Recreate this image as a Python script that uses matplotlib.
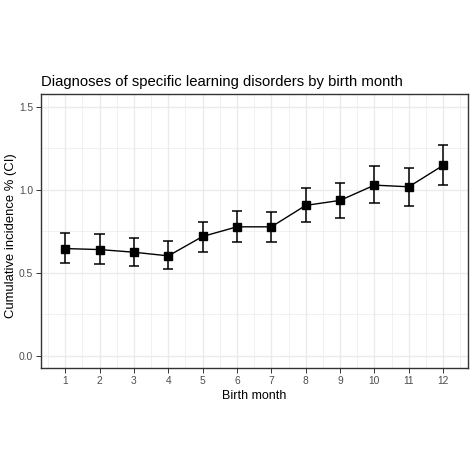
import matplotlib
matplotlib.use("Agg")
import matplotlib.pyplot as plt
import numpy as np

plt.rcParams["font.family"] = ["Liberation Sans", "DejaVu Sans"]

months = [1, 2, 3, 4, 5, 6, 7, 8, 9, 10, 11, 12]
incidence = [0.646, 0.640, 0.624, 0.602, 0.719, 0.777, 0.777, 0.906, 0.936, 1.028, 1.018, 1.147]
ci_lower = [0.560, 0.552, 0.542, 0.522, 0.628, 0.685, 0.685, 0.805, 0.833, 0.920, 0.904, 1.026]
ci_upper = [0.737, 0.733, 0.711, 0.689, 0.809, 0.873, 0.867, 1.008, 1.038, 1.141, 1.133, 1.267]
y_ticks = [0.0, 0.5, 1.0, 1.5]
y_tick_labels = ["0.0", "0.5", "1.0", "1.5"]

W = H = 474
fig = plt.figure(figsize=(4.74, 4.74), dpi=100)
left, right, top, bottom = 40.7, 467.7, 94.3, 368.3
ax = fig.add_axes([left / W, 1 - bottom / H, (right - left) / W, (bottom - top) / H])

x = np.array(months)
y = np.array(incidence)
lo = np.array(ci_lower)
hi = np.array(ci_upper)

ax.set_xlim(0.285, 12.715)
ax.set_ylim(-0.075, 1.575)

# grid
for v in np.arange(0.5, 13.0, 0.5):
    major = float(v).is_integer()
    ax.axvline(v, color="#EBEBEB", lw=1.0 if major else 0.5, zorder=0)
for v in np.arange(0.0, 1.75, 0.25):
    major = abs(v * 2 - round(v * 2)) < 1e-9
    ax.axhline(v, color="#EBEBEB", lw=1.0 if major else 0.5, zorder=0)

# error bars with caps of width 0.3
ax.vlines(x, lo, hi, color="black", lw=1.1, zorder=2)
ax.hlines(lo, x - 0.15, x + 0.15, color="black", lw=1.1, zorder=2)
ax.hlines(hi, x - 0.15, x + 0.15, color="black", lw=1.1, zorder=2)
ax.plot(x, y, color="black", lw=1.0, zorder=3)
ax.plot(x, y, linestyle="none", marker="s", color="black", markersize=6.4, zorder=4)

ax.set_xticks(months)
ax.set_xticklabels([str(m) for m in months])
ax.set_yticks(y_ticks)
ax.set_yticklabels(y_tick_labels)
ax.tick_params(axis="both", colors="#333333", labelcolor="#4D4D4D", labelsize=7.4, length=3.5, width=0.7, pad=1.8)

for s in ax.spines.values():
    s.set_color("#333333")
    s.set_linewidth(1.0)

ax.set_xlabel("Birth month", fontsize=9, color="black", labelpad=3)
fig.text(11 / W, 1 - 236 / H, "Cumulative incidence % (CI)", fontsize=9.4, color="black",
         rotation=90, ha="center", va="center")
fig.text(left / W, 1 - 82 / H, "Diagnoses of specific learning disorders by birth month",
         fontsize=10.7, color="black", ha="left", va="center")

fig.savefig("out.png", dpi=100, facecolor="white")
